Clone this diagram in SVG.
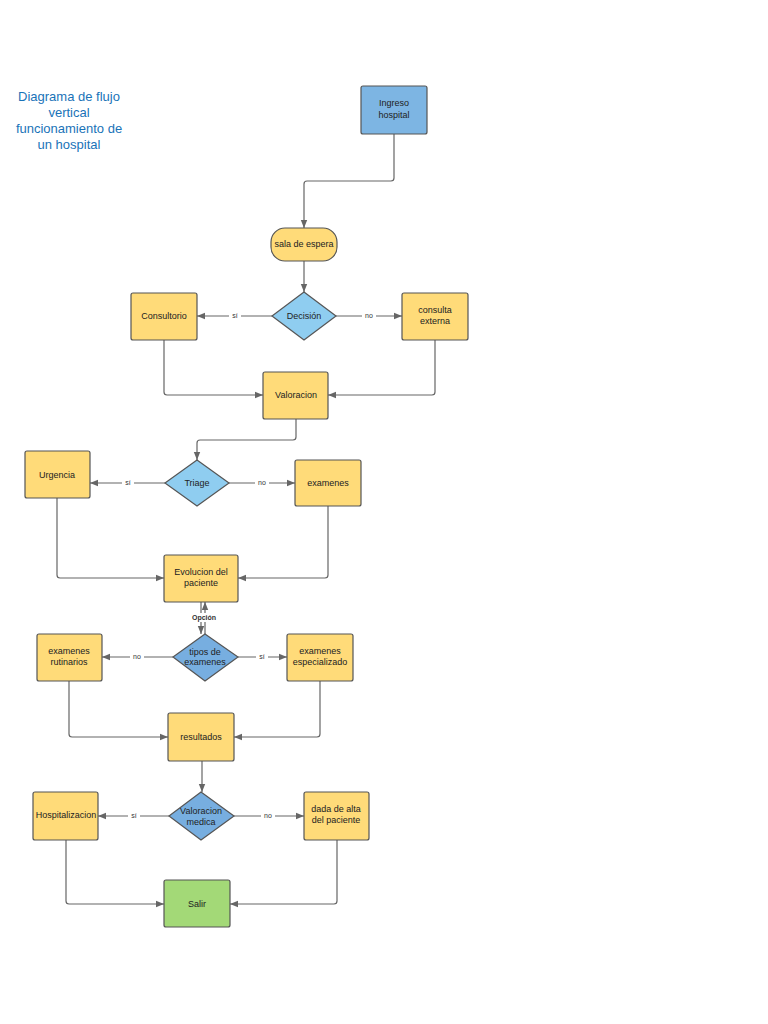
<svg xmlns="http://www.w3.org/2000/svg" width="768" height="1024" viewBox="0 0 768 1024">
<defs>
<marker id="a" viewBox="0 0 10 10" refX="10" refY="5" markerWidth="7" markerHeight="7" orient="auto"><path d="M0,1 L10,5 L0,9 z" fill="#666"/></marker>
<style>
.n{stroke:#555;stroke-width:1.2}
.y{fill:#ffdb79}.b{fill:#8fcdf0}.d{fill:#77aee0}.g{fill:#a3d977}
text{font-family:"Liberation Sans",Arial,sans-serif;font-size:9px;fill:#222;text-anchor:middle}
.c path{fill:none;stroke:#666;stroke-width:1.2;marker-end:url(#a)}
.l{font-size:7px;fill:#333}
.t{font-size:13px;fill:#1a73b8}
</style>
</defs>
<rect width="768" height="1024" fill="#fff"/>
<g id="title"><text class="t" x="69" y="101">Diagrama de flujo</text><text class="t" x="69" y="117">vertical</text><text class="t" x="69" y="133">funcionamiento de</text><text class="t" x="69" y="149">un hospital</text></g>
<g class="c" id="connectors">
<path d="M394,134 V178 Q394,181 391,181 H307 Q304,181 304,184 V228"/>
<path d="M304,261 V292"/>
<path d="M272,316 H197"/>
<path d="M336,316 H402"/>
<path d="M164,340 V392 Q164,395 167,395 H263"/>
<path d="M435,340 V392 Q435,395 432,395 H328"/>
<path d="M296,419 V437 Q296,440 293,440 H200 Q197,440 197,443 V460"/>
<path d="M165,483 H90"/>
<path d="M229,483 H295"/>
<path d="M57,498 V575 Q57,578 60,578 H164"/>
<path d="M328,506 V575 Q328,578 325,578 H238"/>
<path d="M201,602 V634"/>
<path d="M205,634 V602"/>
<path d="M173,657 H102"/>
<path d="M238,657 H287"/>
<path d="M69,681 V734 Q69,737 72,737 H168"/>
<path d="M320,681 V734 Q320,737 317,737 H234"/>
<path d="M202,761 V792"/>
<path d="M169,816 H98"/>
<path d="M234,816 H304"/>
<path d="M66,840 V901 Q66,904 69,904 H164"/>
<path d="M337,840 V901 Q337,904 334,904 H230"/>
</g>
<g id="labels">
<rect x="229" y="311" width="12" height="9" fill="#fff"/><text class="l" x="235" y="318">sí</text>
<rect x="362" y="311" width="14" height="9" fill="#fff"/><text class="l" x="369" y="318">no</text>
<rect x="122" y="478" width="12" height="9" fill="#fff"/><text class="l" x="128" y="485">sí</text>
<rect x="255" y="478" width="14" height="9" fill="#fff"/><text class="l" x="262" y="485">no</text>
<rect x="191" y="613" width="26" height="9" fill="#fff"/><text class="l" x="204" y="620" font-weight="bold">Opción</text>
<rect x="130" y="652" width="14" height="9" fill="#fff"/><text class="l" x="137" y="659">no</text>
<rect x="256" y="652" width="12" height="9" fill="#fff"/><text class="l" x="262" y="659">sí</text>
<rect x="128" y="811" width="12" height="9" fill="#fff"/><text class="l" x="134" y="818">sí</text>
<rect x="261" y="811" width="14" height="9" fill="#fff"/><text class="l" x="268" y="818">no</text>
</g>
<g id="ingreso"><rect class="n" x="361" y="86" width="66" height="48" rx="2" fill="#7db5e3"/><text x="394" y="106">Ingreso</text><text x="394" y="118">hospital</text></g>
<g id="sala"><rect class="n y" x="271" y="228" width="66" height="33" rx="14"/><text x="304" y="247">sala de espera</text></g>
<g id="decision"><path class="n b" d="M304,292 L336,316 L304,340 L272,316 Z"/><text x="304" y="319">Decisión</text></g>
<g id="consultorio"><rect class="n y" x="131" y="293" width="66" height="47" rx="2"/><text x="164" y="319">Consultorio</text></g>
<g id="externa"><rect class="n y" x="402" y="293" width="66" height="47" rx="2"/><text x="435" y="313">consulta</text><text x="435" y="324">externa</text></g>
<g id="valoracion"><rect class="n y" x="263" y="372" width="65" height="47" rx="2"/><text x="296" y="398">Valoracion</text></g>
<g id="triage"><path class="n b" d="M197,460 L229,483 L197,506 L165,483 Z"/><text x="197" y="486">Triage</text></g>
<g id="urgencia"><rect class="n y" x="25" y="451" width="65" height="47" rx="2"/><text x="57" y="478">Urgencia</text></g>
<g id="examenes"><rect class="n y" x="295" y="460" width="66" height="46" rx="2"/><text x="328" y="486">examenes</text></g>
<g id="evolucion"><rect class="n y" x="164" y="555" width="74" height="47" rx="2"/><text x="201" y="575">Evolucion del</text><text x="201" y="586">paciente</text></g>
<g id="tipos"><path class="n d" d="M205,634 L238,657 L205,681 L173,657 Z"/><text x="205" y="655">tipos de</text><text x="205" y="665">examenes</text></g>
<g id="rutinarios"><rect class="n y" x="37" y="634" width="65" height="47" rx="2"/><text x="69" y="654">examenes</text><text x="69" y="665">rutinarios</text></g>
<g id="especializado"><rect class="n y" x="287" y="634" width="66" height="47" rx="2"/><text x="320" y="654">examenes</text><text x="320" y="665">especializado</text></g>
<g id="resultados"><rect class="n y" x="168" y="713" width="66" height="48" rx="2"/><text x="201" y="740">resultados</text></g>
<g id="valmedica"><path class="n d" d="M201,792 L234,816 L201,840 L169,816 Z"/><text x="201" y="814">Valoracion</text><text x="201" y="825">medica</text></g>
<g id="hospitalizacion"><rect class="n y" x="33" y="792" width="65" height="48" rx="2"/><text x="66" y="818">Hospitalizacion</text></g>
<g id="alta"><rect class="n y" x="304" y="792" width="65" height="48" rx="2"/><text x="336" y="812">dada de alta</text><text x="336" y="823">del paciente</text></g>
<g id="salir"><rect class="n g" x="164" y="880" width="66" height="47" rx="2"/><text x="197" y="907">Salir</text></g>
</svg>
